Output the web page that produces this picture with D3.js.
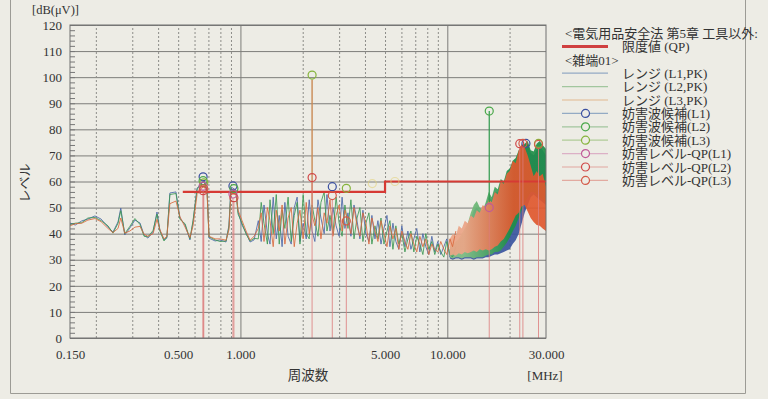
<!DOCTYPE html>
<html>
<head>
<meta charset="utf-8">
<script src="https://cdn.jsdelivr.net/npm/d3@7"></script>
<style>
  body { margin: 0; background: #edece5; }
  svg text { font-family: "Liberation Serif", "Noto Sans CJK JP", serif; fill: #333; }
</style>
</head>
<body>
<div id="chart"></div>
<script>
// axis values
const yTicks = [0, 10, 20, 30, 40, 50, 60, 70, 80, 90, 100, 110, 120]
const yMinor = [0, 2, 4, 6, 8, 10, 12, 14, 16, 18, 20, 22, 24, 26, 28, 30, 32, 34, 36, 38, 40, 42, 44, 46, 48, 50, 52, 54, 56, 58, 60, 62, 64, 66, 68, 70, 72, 74, 76, 78, 80, 82, 84, 86, 88, 90, 92, 94, 96, 98, 100, 102, 104, 106, 108, 110, 112, 114, 116, 118, 120]
const xLabels = [0.15, 0.5, 1, 5, 10, 30]
const xMajor = [1, 10]
const xMinor = [0.2, 0.3, 0.4, 0.5, 0.6, 0.7, 0.8, 0.9, 2, 3, 4, 5, 6, 7, 8, 9, 20]

// limit (QP)
const limitQP = [[0.5265, 56], [5, 56], [5, 60], [30, 60]]

// low band traces [MHz, dB]
const lowL1 = [[0.150,44.1],[0.159,43.3],[0.171,44.9],[0.183,45.6],[0.198,46.8],[0.212,45.6],[0.229,42.6],[0.242,40.6],[0.256,44.5],[0.264,49.8],[0.276,39.5],[0.292,42.2],[0.309,45.2],[0.327,44.1],[0.342,39.5],[0.357,38.3],[0.378,40.6],[0.395,48.3],[0.408,41.4],[0.427,37.6],[0.441,38.3],[0.456,55.6],[0.488,56.0],[0.510,46],[0.540,43.3],[0.570,37.6],[0.590,44.5],[0.617,57.5],[0.638,58.3],[0.667,60.6],[0.690,56.7],[0.705,38.3],[0.754,37.2],[0.797,37.6],[0.852,36.8],[0.880,43.3],[0.900,57.9],[0.952,56.7],[0.974,48.3],[1.018,43.3],[1.065,40.3],[1.113,36.8],[1.164,37.6]]
const lowL2 = [[0.150,43.5],[0.159,44.0],[0.171,44.2],[0.183,46.0],[0.198,46.2],[0.212,45.0],[0.229,43.0],[0.242,40.2],[0.256,44.0],[0.264,48.8],[0.276,40.0],[0.292,42.8],[0.309,45.8],[0.327,43.5],[0.342,39.0],[0.357,38.8],[0.378,41.2],[0.395,47.5],[0.408,41.0],[0.427,37.2],[0.441,38.8],[0.456,55.0],[0.488,55.4],[0.510,45.5],[0.540,43.8],[0.570,38.0],[0.590,45.0],[0.617,56.8],[0.638,59.0],[0.667,60.0],[0.690,56.0],[0.705,38.8],[0.754,37.6],[0.797,37.0],[0.852,37.2],[0.880,42.5],[0.900,57.2],[0.952,56.0],[0.974,47.5],[1.018,44.0],[1.065,39.8],[1.113,37.2],[1.164,38.2]]
const lowL3 = [[0.150,43.0],[0.159,43.8],[0.171,44.0],[0.183,45.2],[0.198,45.8],[0.212,44.6],[0.229,42.0],[0.242,40.4],[0.256,42.0],[0.264,46.0],[0.276,40.2],[0.292,41.0],[0.309,42.5],[0.327,42.8],[0.342,39.8],[0.357,39.0],[0.378,40.0],[0.395,45.5],[0.408,41.5],[0.427,38.0],[0.441,39.0],[0.456,51.5],[0.488,52.5],[0.510,46.5],[0.540,42.5],[0.570,38.5],[0.590,43.0],[0.617,55.0],[0.638,56.5],[0.667,58.5],[0.690,55.0],[0.705,39.0],[0.754,38.0],[0.797,38.0],[0.852,37.5],[0.880,41.5],[0.900,55.5],[0.952,55.0],[0.974,49.0],[1.018,45.0],[1.065,41.0],[1.113,37.5],[1.164,39.0]]

// 1.2 - 11 MHz, spiky part
const fDense = [1.22,1.26,1.30,1.35,1.39,1.44,1.49,1.54,1.59,1.64,
  1.70,1.76,1.82,1.88,1.94,2.01,2.08,2.15,2.22,2.29,
  2.37,2.45,2.54,2.62,2.71,2.80,2.90,3.00,3.10,3.20,
  3.31,3.42,3.54,3.66,3.78,3.91,4.04,4.18,4.32,4.47,
  4.62,4.78,4.94,5.11,5.28,5.46,5.64,5.83,6.03,6.24,
  6.45,6.67,6.89,7.12,7.37,7.62,7.87,8.14,8.42,8.70,
  9.00,9.30,9.62,9.94,10.3,10.6,11.0]
const denseL1 = [45,37,51,40,36,54,38,47,35,52, 39,36,50,54,37,44,38,53,41,37, 53,46,40,55,41,50,43,39,54,42, 48,39,51,45,38,49,40,37,47,38, 45,36,42,47,35,44,37,34,43,35, 41,34,38,42,33,40,35,32,39,33, 37,32,35,38,31,34,33]
const denseL2 = [38,52,44,36,53,40,55,36,49,42, 54,37,47,52,36,55,40,38,51,45, 39,52,56,41,47,40,54,44,39,51, 42,53,38,46,50,37,44,48,36,43, 38,46,36,41,45,34,43,36,40,33, 38,41,33,39,36,32,40,34,37,32, 36,33,31,37,32,31,35]
const denseL3 = [42,48,37,50,45,35,49,41,51,36, 46,50,35,44,49,38,52,40,47,43, 50,38,48,44,53,39,47,51,41,49, 45,40,50,43,39,48,44,36,46,41, 37,45,40,35,43,38,42,34,41,37, 34,40,36,33,39,35,38,32,36,34, 33,37,34,32,38,35,41]
const spikeL3 = [[2.22, 46], [2.22, 99]]

// 10 - 30 MHz, dense band (upper / lower envelope)
const fBand = [10.28,10.63,10.99,11.36,11.75,12.15,12.56,12.99,13.43,13.88,
  14.35,14.84,15.34,15.86,16.40,16.96,17.53,18.13,18.74,19.38,
  20.03,20.71,21.41,22.14,22.89,23.66,24.47,25.30,26.15,27.04,
  27.96,28.90,30.0]
const hiL1 = [34,35,36,37,39,41,43,46,49,50, 48.5,48,50,54,53,56,56,59,59,62, 63,66,67,70,72,74,75,71,70,72, 73,72,70]
const loL1 = [30.5,30,30.5,30.5,30,30.5,30.5,30.5,30,30.5, 30.5,30.5,31,31,31.5,32,32,32.5,33,33.5, 34,36,37.5,40,44,48,51,54,55,54, 53,52,51]
const hiL2 = [35,36,37,38,40,42,44,48,51,52.5, 50,49,52,56,54,58,57,61,60,64, 65,68,69,72,73.5,74.5,75.5,72,71.5,74.5, 75.5,74,72.5]
const loL2 = [31,30.5,31,31,30.5,31,31,31,30.5,31, 31,31,31.5,32,32,33,33,33.5,35,36.5, 38.5,40.8,43,46,49,52,54,56,56,55, 54,53,52]
const hiL3 = [38,40,39,43,42,45,44,47,46,49, 48,51,50,53,52,56,55,60,59,63, 64,68,67,72,74.5,73,70,66,62,64, 62,63,58]
const loL3 = [31.5,32,31.5,32.5,32,33,32.5,33,33.5,33, 34,33.5,34,33.5,34,35,35.5,37,38,40, 42,44.5,47,48,50.5,51,48.5,46,44.5,43.3, 43,42,41]
const spikeL2 = [[15.95, 52], [15.95, 87]]

// markers [MHz, dB]
const candL1 = [[0.66,61.8],[0.92,58.3],[2.78,58.0],[24.0,74.6]]
const candL2 = [[0.66,60.3],[0.93,57.3],[15.95,87.0]]
const candL3 = [[0.665,59.5],[2.22,100.8],[3.25,57.4],[27.6,74.6]]
const candFaint = [[4.34,59.2],[5.58,60.0]]
const qpL1 = [[0.66,58.2],[0.92,55.2],[15.95,50.0]]
const qpL2 = [[0.66,56.5],[0.93,53.8],[2.22,61.5],[22.4,74.5]]
const qpL3 = [[0.665,57.2],[2.78,54.6],[3.25,44.9],[23.2,74.6],[27.6,74.2]]

const legendRows = [
  {label: 'レンジ (L1,PK)', line: '#93aac4'},
  {label: 'レンジ (L2,PK)', line: '#a2c69e'},
  {label: 'レンジ (L3,PK)', line: '#e2b890'},
  {label: '妨害波候補(L1)', line: '#93aac4', dot: '#3a4fa0'},
  {label: '妨害波候補(L2)', line: '#a2c69e', dot: '#4aa84a'},
  {label: '妨害波候補(L3)', line: '#b0cc98', dot: '#86b43c'},
  {label: '妨害レベル-QP(L1)', line: '#dcb0c6', dot: '#c05a98'},
  {label: '妨害レベル-QP(L2)', line: '#e2a6a0', dot: '#d04848'},
  {label: '妨害レベル-QP(L3)', line: '#e2aaa0', dot: '#d45a48'},
]

const margin = {top: 25, right: 222, bottom: 61, left: 70}
const width = 768 - margin.left - margin.right
const height = 399 - margin.top - margin.bottom

const svg = d3.select('#chart').append('svg')
  .attr('width', 768)
  .attr('height', 399)

// paper frame
svg.append('path')
  .attr('d', 'M10.5,0 V393.5 H745.5 V0')
  .attr('fill', 'none')
  .attr('stroke', '#9c9b95')
  .attr('stroke-width', 1)

const g = svg.append('g').attr('transform', 'translate(' + margin.left + ',' + margin.top + ')')

const x = d3.scaleLog().domain([0.15, 30]).range([0, width])
const y = d3.scaleLinear().domain([0, 120]).range([height, 0])

// defs: band gradients
const defs = svg.append('defs')
function grad(id, f0, f1, c0, c1) {
  const lg = defs.append('linearGradient').attr('id', id)
    .attr('gradientUnits', 'userSpaceOnUse')
    .attr('x1', x(f0)).attr('x2', x(f1)).attr('y1', 0).attr('y2', 0)
  lg.append('stop').attr('offset', 0).attr('stop-color', c0)
  lg.append('stop').attr('offset', 1).attr('stop-color', c1)
}
grad('gL3', 12, 21, '#eba587', '#e0582e')
grad('gL2', 12, 20, '#86c485', '#1f8f48')

// grid
g.append('g')
  .attr('class', 'grid')
  .call(d3.axisLeft(y).tickValues(yTicks).tickSize(-width).tickFormat('').tickSizeOuter(0))
g.append('g')
  .attr('class', 'grid-minor')
  .attr('transform', 'translate(0,' + height + ')')
  .call(d3.axisBottom(x).tickValues(xMinor).tickSize(-height).tickFormat('').tickSizeOuter(0))
g.append('g')
  .attr('class', 'grid')
  .attr('transform', 'translate(0,' + height + ')')
  .call(d3.axisBottom(x).tickValues(xMajor).tickSize(-height).tickFormat('').tickSizeOuter(0))
g.selectAll('.grid .domain, .grid-minor .domain').remove()
g.selectAll('.grid line').attr('stroke', '#7d7d7a').attr('stroke-width', 1)
g.selectAll('.grid-minor line').attr('stroke', '#8d8d89').attr('stroke-dasharray', '2,2')

// y minor ticks
g.append('g')
  .attr('class', 'minor')
  .call(d3.axisLeft(y).tickValues(yMinor).tickSize(-5).tickFormat('').tickSizeOuter(0))
g.selectAll('.minor line').attr('stroke', '#777')
g.select('.minor .domain').remove()

// traces
const line = d3.line().x(d => x(d[0])).y(d => y(d[1]))
const area = d3.area().x(d => x(d[0])).y0(d => y(d[1])).y1(d => y(d[2]))

const traces = [
  {low: lowL1, dense: denseL1, hi: hiL1, lo: loL1, color: '#4a66a8', fill: '#3a55a0'},
  {low: lowL2, dense: denseL2, hi: hiL2, lo: loL2, color: '#3c9852', fill: 'url(#gL2)'},
  {low: lowL3, dense: denseL3, hi: hiL3, lo: loL3, color: '#d96a3e', fill: 'url(#gL3)'},
]

traces.forEach(t => {
  const band = fBand.map((f, i) => [f, t.lo[i], t.hi[i]])
  g.append('path')
    .datum(band)
    .attr('fill', t.fill)
    .attr('fill-opacity', 0.92)
    .attr('d', area)
  const pts = t.low.concat(fDense.map((f, i) => [f, t.dense[i]]))
  g.append('path')
    .datum(pts)
    .attr('fill', 'none')
    .attr('stroke', t.color)
    .attr('stroke-width', 1)
    .attr('stroke-opacity', 0.85)
    .attr('d', line)
})

// narrow peaks
g.append('path')
  .datum(spikeL2)
  .attr('fill', 'none')
  .attr('stroke', '#2f9a4c')
  .attr('stroke-width', 1.2)
  .attr('d', line)
g.append('path')
  .datum(spikeL3)
  .attr('fill', 'none')
  .attr('stroke', '#c98a55')
  .attr('stroke-width', 1.4)
  .attr('d', line)

// limit line
g.append('path')
  .datum(limitQP)
  .attr('fill', 'none')
  .attr('stroke', '#d63a34')
  .attr('stroke-width', 2.2)
  .attr('d', line)

// QP drop lines
const qpAll = [qpL1, qpL2, qpL3]
qpAll.forEach(s => {
  g.append('g').selectAll('line')
    .data(s)
    .enter().append('line')
    .attr('x1', d => x(d[0])).attr('x2', d => x(d[0]))
    .attr('y1', d => y(d[1]) + 4).attr('y2', height)
    .attr('stroke', '#dc7c7c')
    .attr('stroke-opacity', 0.8)
    .attr('stroke-width', 1)
})

// marker circles
const markerSets = [
  {data: candFaint, color: '#e2d27a', op: 0.6},
  {data: candL1, color: '#3a4fa0', op: 1},
  {data: candL2, color: '#4aa84a', op: 1},
  {data: candL3, color: '#86b43c', op: 1},
  {data: qpL1, color: '#c05a98', op: 1},
  {data: qpL2, color: '#d04848', op: 1},
  {data: qpL3, color: '#d45a48', op: 1},
]
markerSets.forEach(s => {
  g.append('g').selectAll('circle')
    .data(s.data)
    .enter().append('circle')
    .attr('cx', d => x(d[0]))
    .attr('cy', d => y(d[1]))
    .attr('r', 4)
    .attr('fill', 'none')
    .attr('stroke', s.color)
    .attr('stroke-opacity', s.op)
    .attr('stroke-width', 1.2)
})

// plot border
g.append('rect')
  .attr('width', width).attr('height', height)
  .attr('fill', 'none').attr('stroke', '#707070').attr('stroke-width', 1)

// axes labels
const yAxis = g.append('g')
  .attr('class', 'y axis')
  .call(d3.axisLeft(y).tickValues(yTicks).tickSize(0).tickPadding(8).tickFormat(d3.format('d')))
yAxis.select('.domain').remove()
yAxis.selectAll('text').attr('font-size', 13).style('font-family', '"Liberation Serif", serif')

const xAxis = g.append('g')
  .attr('class', 'x axis')
  .attr('transform', 'translate(0,' + height + ')')
  .call(d3.axisBottom(x).tickValues(xLabels).tickSize(0).tickPadding(12).tickFormat(d3.format('.3f')))
xAxis.select('.domain').remove()
xAxis.selectAll('text').attr('font-size', 13).style('font-family', '"Liberation Serif", serif')

svg.append('text').attr('x', 32).attr('y', 14).attr('font-size', 12.5).text('[dB(μV)]')
svg.append('text').attr('transform', 'translate(29,183) rotate(-90)')
  .attr('text-anchor', 'middle').attr('font-size', 13).text('レベル')
svg.append('text').attr('x', 308).attr('y', 380).attr('text-anchor', 'middle')
  .attr('font-size', 13.5).text('周波数')
svg.append('text').attr('x', 545).attr('y', 380).attr('text-anchor', 'middle')
  .attr('font-size', 13).text('[MHz]')

// legend
const lg = svg.append('g').attr('class', 'legend')
lg.append('text').attr('x', 565).attr('y', 37.5).attr('font-size', 13).text('<電気用品安全法 第5章 工具以外:')
lg.append('line').attr('x1', 562).attr('x2', 608).attr('y1', 46.5).attr('y2', 46.5)
  .attr('stroke', '#d04040').attr('stroke-width', 3)
lg.append('text').attr('x', 622).attr('y', 51).attr('font-size', 13).text('限度値 (QP)')
lg.append('text').attr('x', 565).attr('y', 64.5).attr('font-size', 13).text('<雑端01>')

const rows = lg.selectAll('.row')
  .data(legendRows)
  .enter().append('g')
  .attr('class', 'row')
  .attr('transform', (d, i) => 'translate(0,' + (73.2 + i * 13.4) + ')')
rows.append('line')
  .attr('x1', 562).attr('x2', 608)
  .attr('stroke', d => d.line).attr('stroke-width', 1.2)
rows.filter(d => d.dot).append('circle')
  .attr('cx', 585.5).attr('r', 4)
  .attr('fill', '#edece5').attr('stroke', d => d.dot).attr('stroke-width', 1.2)
rows.append('text')
  .attr('x', 622).attr('y', 4.6).attr('font-size', 13)
  .text(d => d.label)
</script>
</body>
</html>
